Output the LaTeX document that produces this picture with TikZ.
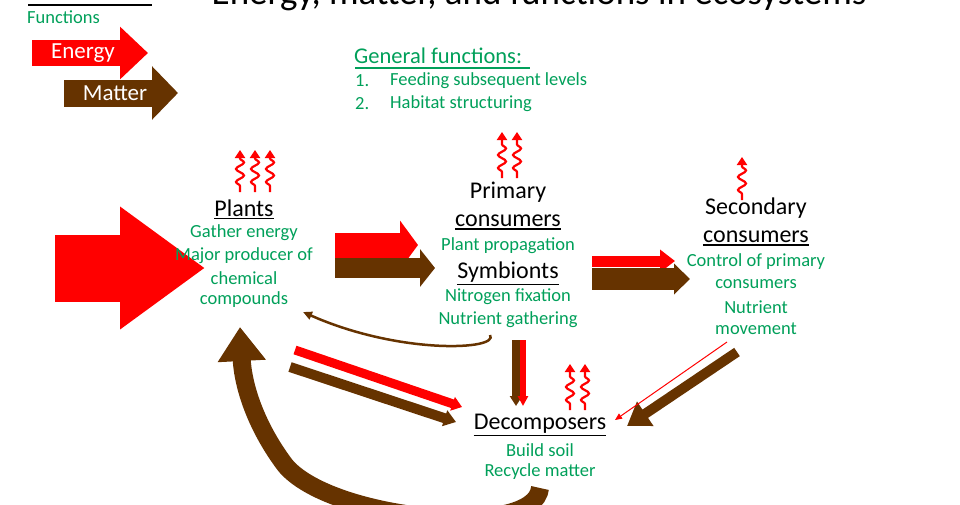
\documentclass[tikz,border=0pt]{standalone}
\usepackage{fontspec}
\setmainfont{Carlito}
\usetikzlibrary{arrows.meta,decorations.pathmorphing}
\definecolor{gr}{RGB}{0,160,90}
\definecolor{br}{RGB}{102,51,0}
\definecolor{rd}{RGB}{255,0,0}
\tikzset{
 g/.style={text=gr,font=\fontsize{18.5}{18.5}\selectfont,inner sep=0pt},
 h/.style={text=black,font=\fontsize{24}{24}\selectfont,inner sep=0pt},
 ul/.style={line width=1.3pt},
 blk/.style={line cap=butt},
 wig/.style={rd,line width=2.2pt,decorate,decoration={snake,amplitude=4pt,segment length=13pt,pre length=6pt,post length=8pt},-{Triangle[length=8pt,width=10pt]}}
}
\begin{document}
\begin{tikzpicture}[x=1pt,y=-1pt]
\clip (0,0) rectangle (960,504);
\fill[white] (0,0) rectangle (960,504);
% big energy in (drawn first, under the text)
\coordinate (b1) at (55,268); \coordinate (b2) at (205,268);
\draw[blk,rd,line width=67pt,-{Triangle[length=85pt,width=117pt]}] (b1) -- (b2);
% title (cut off)
\node[font=\fontsize{37}{37}\selectfont,anchor=base,inner sep=0pt] (title) at (539,4) {Energy, matter, and functions in ecosystems};
\draw[ul] (28,5) -- (152,5);
\node[g,anchor=west] (fn) at (27,17) {Functions};
% legend arrows
\coordinate (e1) at (32,53); \coordinate (e2) at (148,53);
\draw[blk,rd,line width=26pt,-{Triangle[length=28pt,width=51pt]}] (e1) -- (e2);
\node[text=white,font=\fontsize{23}{23}\selectfont,inner sep=0pt] (en) at (83,53) {Energy};
\coordinate (m1) at (64,93); \coordinate (m2) at (178,93);
\draw[blk,br,line width=27pt,-{Triangle[length=26pt,width=52pt]}] (m1) -- (m2);
\node[text=white,font=\fontsize{23}{23}\selectfont,inner sep=0pt] (mt) at (115,93) {Matter};
% general functions
\node[g,anchor=west,font=\fontsize{22.5}{22.5}\selectfont] (gf) at (354,56) {General functions:};
\draw[gr,line width=1.3pt] (355,68) -- (530,68);
\node[g,anchor=west] (n1) at (355,81) {1.};
\node[g,anchor=west] (t1) at (390,81) {Feeding subsequent levels};
\node[g,anchor=west] (n2) at (355,104) {2.};
\node[g,anchor=west] (t2) at (390,104) {Habitat structuring};
% squiggles
\foreach \x/\n in {240/a,255/b,270/c}{\coordinate (p\n) at (\x,192); \coordinate (q\n) at (\x,150); \draw[wig] (p\n) -- (q\n);}
\foreach \x/\n in {502/a,517/b}{\coordinate (r\n) at (\x,178); \coordinate (s\n) at (\x,132); \draw[wig] (r\n) -- (s\n);}
\coordinate (ua) at (742,200); \coordinate (va) at (742,157); \draw[wig] (ua) -- (va);
\foreach \x/\n in {570/a,585/b}{\coordinate (w\n) at (\x,410); \coordinate (z\n) at (\x,364); \draw[wig] (w\n) -- (z\n);}
% plants
\node[h] (pl) at (244,208) {Plants};
\draw[ul] ([yshift=-2pt]pl.south west) -- ([yshift=-2pt]pl.south east);
\node[g] (pl1) at (244,233) {Gather energy};
\node[g] (pl2) at (244,256) {Major producer of};
\node[g] (pl3) at (244,278) {chemical};
\node[g] (pl4) at (244,300) {compounds};
% primary
\node[h] (pc1) at (508,192) {Primary};
\node[h] (pc2) at (508,221) {consumers};
\draw[ul] ([yshift=-2pt]pc2.south west) -- ([yshift=-2pt]pc2.south east);
\node[g] (pc3) at (508,246) {Plant propagation};
\node[h] (sy) at (508,272) {Symbionts};
\draw[ul] ([yshift=-2pt]sy.south west) -- ([yshift=-2pt]sy.south east);
\node[g] (sy1) at (508,297) {Nitrogen fixation};
\node[g] (sy2) at (508,320) {Nutrient gathering};
% secondary
\node[h] (sc1) at (756,208) {Secondary};
\node[h] (sc2) at (756,237) {consumers};
\draw[ul] ([yshift=-2pt]sc2.south west) -- ([yshift=-2pt]sc2.south east);
\node[g] (sc3) at (756,262) {Control of primary};
\node[g] (sc4) at (756,284) {consumers};
\node[g] (sc5) at (756,307) {Nutrient};
\node[g] (sc6) at (756,329) {movement};
% decomposers
\node[h] (dc) at (540,424) {Decomposers};
\draw[ul] ([yshift=-2pt]dc.south west) -- ([yshift=-2pt]dc.south east);
\node[g] (dc1) at (540,450) {Build soil};
\node[g] (dc2) at (540,472) {Recycle matter};
% plants -> primary
\coordinate (c1) at (335,245); \coordinate (c2) at (418,245);
\draw[blk,rd,line width=25pt,-{Triangle[length=18pt,width=48pt]}] (c1) -- (c2);
\coordinate (d1) at (335,268); \coordinate (d2) at (435,268);
\draw[blk,br,line width=20pt,-{Triangle[length=15pt,width=37pt]}] (d1) -- (d2);
% primary -> secondary
\coordinate (f1) at (592,261); \coordinate (f2) at (675,261);
\draw[blk,rd,line width=11pt,-{Triangle[length=15pt,width=22pt]}] (f1) -- (f2);
\coordinate (k1) at (592,279); \coordinate (k2) at (690,279);
\draw[blk,br,line width=22pt,-{Triangle[length=16pt,width=30pt]}] (k1) -- (k2);
% curved thin back arrow
\coordinate (cb1) at (490,335); \coordinate (cb2) at (303,312);
\draw[br,line width=2.5pt,-{Triangle[length=9pt,width=8pt]}] (cb1) .. controls (500,350) and (400,355) .. (cb2);
% diagonals to decomposers
\coordinate (x1) at (295,350); \coordinate (x2) at (462,407);
\draw[blk,rd,line width=9pt,-{Triangle[length=10pt,width=14pt]}] (x1) -- (x2);
\coordinate (y1) at (290,367); \coordinate (y2) at (456,422);
\draw[blk,br,line width=10pt,-{Triangle[length=12pt,width=16pt]}] (y1) -- (y2);
% vertical
\coordinate (v1) at (516,340); \coordinate (v2) at (516,406);
\draw[blk,br,line width=8pt,-{Triangle[length=10pt,width=12pt]}] (v1) -- (v2);
\coordinate (v3) at (523,340); \coordinate (v4) at (523,406);
\draw[blk,rd,line width=6pt,-{Triangle[length=10pt,width=10pt]}] (v3) -- (v4);
% from secondary
\coordinate (s1) at (737,352); \coordinate (s2) at (627,426);
\draw[blk,br,line width=10pt,-{Triangle[length=22pt,width=28pt]}] (s1) -- (s2);
\coordinate (s3) at (727,342); \coordinate (s4) at (615,420);
\draw[rd,line width=1pt,-{Triangle[length=7pt,width=6pt]}] (s3) -- (s4);
% big recycling curve
\coordinate (bb1) at (540,488); \coordinate (bb2) at (240,327);
\draw[blk,br,line width=18pt,-{Triangle[length=34pt,width=46pt]}] (bb1) .. controls (535,540) and (330,520) .. (285,465) .. controls (255,425) and (243,385) .. (bb2);
\end{tikzpicture}
\end{document}
